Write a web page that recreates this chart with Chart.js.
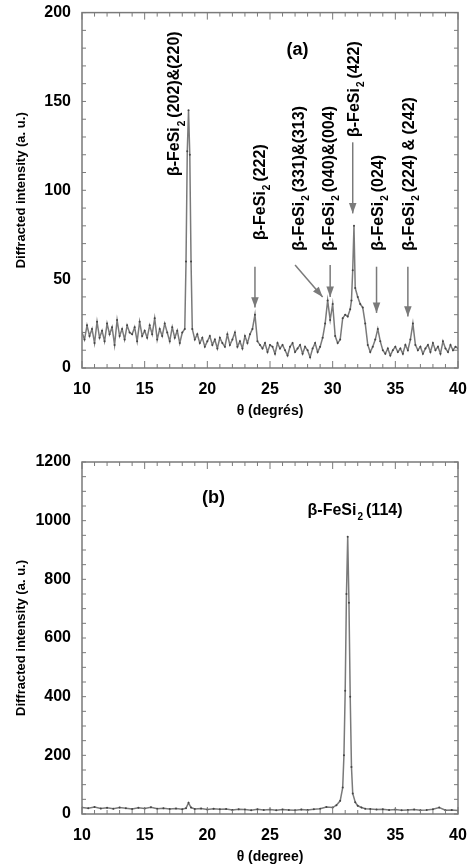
<!DOCTYPE html>
<html>
<head>
<meta charset="utf-8">
<script src="https://cdn.jsdelivr.net/npm/chart.js@4"></script>
<style>
  body { margin: 0; background: #fff; width: 474px; height: 866px; overflow: hidden; font-family: 'Liberation Sans', Arial, sans-serif; }
  .box { position: absolute; left: 0; width: 474px; }
  #boxA { top: 0; height: 420px; }
  #boxB { top: 440px; height: 426px; }
</style>
</head>
<body>
<div class="box" id="boxA"><canvas id="chartA"></canvas></div>
<div class="box" id="boxB"><canvas id="chartB"></canvas></div>
<script>
// ---- données ----
const thetaA = [10,10.2,10.4,10.6,10.8,11,11.2,11.4,11.6,11.8,12,12.2,12.4,12.6,12.8,13,13.2,13.4,13.6,13.8,14,14.2,14.4,14.6,14.8,15,15.2,15.4,15.6,15.8,16,16.2,16.4,16.6,16.8,17,17.2,17.4,17.6,17.8,18,18.2,18.3,18.4,18.5,18.6,18.7,18.8,19,19.2,19.4,19.6,19.8,20,20.2,20.4,20.6,20.8,21,21.2,21.4,21.6,21.8,22,22.2,22.4,22.6,22.8,23,23.2,23.4,23.6,23.8,24,24.2,24.4,24.6,24.8,25,25.2,25.4,25.6,25.8,26,26.2,26.4,26.6,26.8,27,27.2,27.4,27.6,27.8,28,28.2,28.4,28.6,28.8,29,29.2,29.4,29.6,29.8,30,30.2,30.4,30.6,30.8,31,31.2,31.4,31.5,31.6,31.7,31.8,32,32.2,32.4,32.6,32.8,33,33.2,33.4,33.6,33.8,34,34.2,34.4,34.6,34.8,35,35.2,35.4,35.6,35.8,36,36.2,36.4,36.6,36.8,37,37.2,37.4,37.6,37.8,38,38.2,38.4,38.6,38.8,39,39.2,39.4,39.6,39.8,40]
const intensityA = [20,16,24,18,22,14,26,17,21,15,25,19,23,13,27,18,22,16,24,20,19,23,15,26,18,21,17,24,19,28,16,22,18,25,20,15,23,17,21,14,20,22,60,122,145,120,60,22,16,19,14,17,12,15,18,13,16,11,17,14,12,19,13,16,20,12,15,11,18,14,19,22,30,15,13,11,14,9,13,12,8,14,11,13,10,7,12,14,9,11,13,8,12,10,6,11,14,9,12,17,25,38,27,36,18,14,16,28,30,29,33,38,55,80,45,40,36,34,25,13,9,12,16,22,15,10,8,11,7,10,12,9,11,8,13,10,16,25,13,10,12,8,11,13,9,14,10,12,8,15,11,9,13,10,12,11]

const thetaB = [10,10.5,11,11.5,12,12.5,13,13.5,14,14.5,15,15.5,16,16.5,17,17.5,18,18.3,18.5,18.7,19,19.5,20,20.5,21,21.5,22,22.5,23,23.5,24,24.5,25,25.5,26,26.5,27,27.5,28,28.5,29,29.5,30,30.3,30.6,30.8,30.9,31,31.1,31.2,31.3,31.4,31.5,31.6,31.8,32,32.3,32.6,33,33.5,34,34.5,35,35.5,36,36.5,37,37.5,38,38.5,39,39.5,40]
const intensityB = [22,20,24,19,21,18,22,20,17,21,19,23,18,20,17,19,16,20,38,22,17,19,15,18,16,17,14,16,15,13,16,14,15,13,15,14,13,15,14,16,18,24,22,30,45,90,200,420,750,945,720,400,160,70,40,28,22,18,17,15,16,14,15,13,14,15,13,14,16,22,13,14,12]

// étiquettes de pics (texte vertical) : position x, pied du texte
const peakTextA = ['(202)&(220)', '(222)', '(331)&(313)', '(040)&(004)', '(422)', '(024)', '(224) & (242)']
const peakTextXA = [17.3, 24.1, 27.2, 29.6, 31.6, 33.5, 36.0]
const peakTextYA = [108, 72, 66, 66, 130, 66, 66]
// flèches : départ (x,y) -> arrivée (x,y)
const arrowFromXA = [null, 23.8, 27.0, 29.8, 31.6, 33.5, 36.0]
const arrowFromYA = [null, 57, 58, 58, 127, 57, 57]
const arrowToXA = [null, 23.8, 29.2, 29.8, 31.6, 33.5, 36.0]
const arrowToYA = [null, 34, 40, 40, 87, 31, 29]

const GRAY = '#7a7a7a'
const FONT = "'Liberation Sans', Arial, sans-serif"

function pts(xs, ys) { return xs.map((x, i) => ({ x: x, y: ys[i] })) }

function drawFeSi(ctx, text, size) {
    // "β-FeSi" + indice 2 + texte, à partir de (0,0)
    ctx.font = 'bold ' + size + 'px ' + FONT
    ctx.fillText('β-FeSi', 0, 0)
    let w = ctx.measureText('β-FeSi').width
    ctx.font = 'bold ' + Math.round(size * 0.6) + 'px ' + FONT
    ctx.fillText('2', w + 1, size * 0.35)
    w += ctx.measureText('2').width + 4
    ctx.font = 'bold ' + size + 'px ' + FONT
    ctx.fillText(text, w, 0)
}

function arrow(ctx, x1, y1, x2, y2) {
    const a = Math.atan2(y2 - y1, x2 - x1)
    ctx.beginPath()
    ctx.moveTo(x1, y1)
    ctx.lineTo(x2, y2)
    ctx.stroke()
    ctx.beginPath()
    ctx.moveTo(x2, y2)
    ctx.lineTo(x2 - 11 * Math.cos(a - 0.35), y2 - 11 * Math.sin(a - 0.35))
    ctx.lineTo(x2 - 11 * Math.cos(a + 0.35), y2 - 11 * Math.sin(a + 0.35))
    ctx.closePath()
    ctx.fill()
}

const frame = {
    id: 'frame',
    afterDraw(chart) {
        const { ctx, chartArea: a } = chart
        ctx.save()
        ctx.strokeStyle = GRAY
        ctx.lineWidth = 1.5
        ctx.strokeRect(a.left, a.top, a.right - a.left, a.bottom - a.top)
        ctx.restore()
    }
}

function axisTicks(ymax, ystep) {
    return {
        id: 'minorTicks',
        afterDraw(chart) {
            const { ctx, chartArea: a, scales } = chart
            ctx.save()
            ctx.strokeStyle = GRAY
            ctx.lineWidth = 1
            for (let v = 10; v <= 40.01; v += 1) {
                const x = scales.x.getPixelForValue(v)
                const len = (Math.abs(v % 5) < 0.01) ? 7 : 4
                ctx.beginPath()
                ctx.moveTo(x, a.bottom); ctx.lineTo(x, a.bottom - len)
                ctx.moveTo(x, a.top); ctx.lineTo(x, a.top + len)
                ctx.stroke()
            }
            for (let v = 0; v <= ymax; v += ystep) {
                const y = scales.y.getPixelForValue(v)
                ctx.beginPath()
                ctx.moveTo(a.left, y); ctx.lineTo(a.left + 4, y)
                ctx.moveTo(a.right, y); ctx.lineTo(a.right - 4, y)
                ctx.stroke()
            }
            ctx.restore()
        }
    }
}

const labelsA = {
    id: 'labelsA',
    afterDraw(chart) {
        const { ctx, scales } = chart
        ctx.save()
        ctx.fillStyle = '#000'
        ctx.font = 'bold 18px ' + FONT
        ctx.textAlign = 'center'
        ctx.fillText('(a)', scales.x.getPixelForValue(27.2), scales.y.getPixelForValue(176))
        ctx.textAlign = 'left'
        peakTextA.forEach((t, i) => {
            ctx.save()
            ctx.translate(scales.x.getPixelForValue(peakTextXA[i]) + 6, scales.y.getPixelForValue(peakTextYA[i]))
            ctx.rotate(-Math.PI / 2)
            drawFeSi(ctx, t, 16)
            ctx.restore()
        })
        ctx.strokeStyle = GRAY
        ctx.fillStyle = GRAY
        ctx.lineWidth = 1.5
        arrowFromXA.forEach((fx, i) => {
            if (fx === null) return
            arrow(ctx, scales.x.getPixelForValue(fx), scales.y.getPixelForValue(arrowFromYA[i]),
                scales.x.getPixelForValue(arrowToXA[i]), scales.y.getPixelForValue(arrowToYA[i]))
        })
        ctx.restore()
    }
}

const labelsB = {
    id: 'labelsB',
    afterDraw(chart) {
        const { ctx, scales } = chart
        ctx.save()
        ctx.fillStyle = '#000'
        ctx.font = 'bold 18px ' + FONT
        ctx.textAlign = 'center'
        ctx.fillText('(b)', scales.x.getPixelForValue(20.5), scales.y.getPixelForValue(1060))
        ctx.textAlign = 'left'
        ctx.translate(scales.x.getPixelForValue(28.0), scales.y.getPixelForValue(1020))
        drawFeSi(ctx, '(114)', 16)
        ctx.restore()
    }
}

function makeChart(id, data, ymax, ystep, xTitle, plugins, padding) {
    return new Chart(document.getElementById(id), {
        type: 'line',
        data: {
            datasets: [{
                data: data,
                borderColor: GRAY,
                borderWidth: 1.5,
                pointRadius: 1,
                pointBackgroundColor: '#444',
                pointBorderWidth: 0,
                tension: 0
            }]
        },
        options: {
            responsive: true,
            maintainAspectRatio: false,
            animation: false,
            layout: { padding: padding },
            plugins: { legend: { display: false }, tooltip: { enabled: false } },
            scales: {
                x: {
                    type: 'linear', min: 10, max: 40,
                    grid: { display: false },
                    border: { display: false },
                    ticks: { stepSize: 5, padding: 4, color: '#000', font: { family: FONT, size: 16, weight: 'bold' } },
                    title: { display: true, text: xTitle, color: '#000', font: { family: FONT, size: 14, weight: 'bold' }, padding: { top: 0, bottom: 0 } }
                },
                y: {
                    min: 0, max: ymax,
                    grid: { display: false },
                    border: { display: false },
                    ticks: { stepSize: ystep, color: '#000', font: { family: FONT, size: 16, weight: 'bold' }, callback: v => String(v) },
                    title: { display: true, text: 'Diffracted intensity (a. u.)', color: '#000', font: { family: FONT, size: 13, weight: 'bold' } },
                    afterFit(scale) { scale.width = 72 }
                }
            }
        },
        plugins: [frame].concat(plugins)
    })
}

makeChart('chartA', pts(thetaA, intensityA), 200, 50, 'θ (degrés)',
    [axisTicks(200, 10), labelsA], { left: 10, right: 16, top: 10, bottom: 0 })
makeChart('chartB', pts(thetaB, intensityB), 1200, 200, 'θ (degree)',
    [axisTicks(1200, 50), labelsB], { left: 10, right: 16, top: 22, bottom: 0 })
</script>
</body>
</html>
